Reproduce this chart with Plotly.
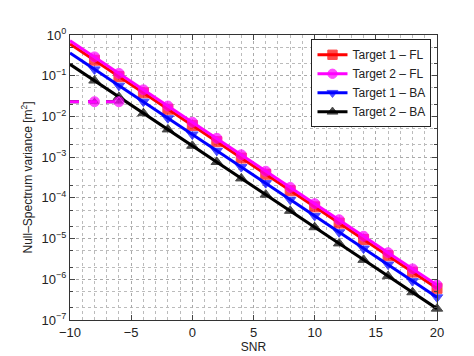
import plotly.graph_objects as go

snr = [-10, -8, -6, -4, -2, 0, 2, 4, 6, 8, 10, 12, 14, 16, 18, 20]
t1_fl = [0.6, 0.24, 0.095, 0.038, 0.015, 6.0e-3, 2.4e-3, 9.5e-4, 3.8e-4, 1.5e-4,
         6.0e-5, 2.4e-5, 9.5e-6, 3.8e-6, 1.5e-6, 6.0e-7]
t2_fl = [0.72, 0.29, 0.114, 0.045, 0.018, 7.2e-3, 2.9e-3, 1.14e-3, 4.5e-4, 1.8e-4,
         7.2e-5, 2.9e-5, 1.14e-5, 4.5e-6, 1.8e-6, 7.2e-7]
t1_ba = [0.36, 0.143, 0.057, 0.023, 9.0e-3, 3.6e-3, 1.43e-3, 5.7e-4, 2.3e-4, 9.0e-5,
         3.6e-5, 1.43e-5, 5.7e-6, 2.3e-6, 9.0e-7, 3.6e-7]
t2_ba = [0.19, 0.076, 0.030, 0.012, 4.8e-3, 1.9e-3, 7.6e-4, 3.0e-4, 1.2e-4, 4.8e-5,
         1.9e-5, 7.6e-6, 3.0e-6, 1.2e-6, 4.8e-7, 1.9e-7]

low_snr = [-10, -8, -6]
low_t2_ba = [0.023, 0.023, 0.023]
low_t2_fl = [0.023, 0.023, 0.023]

ytick_vals = [1, 1e-1, 1e-2, 1e-3, 1e-4, 1e-5, 1e-6, 1e-7]
ytick_text = ["10<sup>0</sup>", "10<sup>−1</sup>", "10<sup>−2</sup>", "10<sup>−3</sup>",
              "10<sup>−4</sup>", "10<sup>−5</sup>", "10<sup>−6</sup>", "10<sup>−7</sup>"]
xtick_vals = [-10, -5, 0, 5, 10, 15, 20]

msizes = [0] + [10] * (len(snr) - 1)

fig = go.Figure()

series = [
    ("Target 1 – FL", t1_fl, "#ff0000", "square"),
    ("Target 2 – FL", t2_fl, "#ff00ff", "circle"),
    ("Target 1 – BA", t1_ba, "#0000ff", "triangle-down"),
    ("Target 2 – BA", t2_ba, "#000000", "triangle-up"),
]
for name, ys, col, sym in series:
    fig.add_trace(go.Scatter(
        x=snr, y=ys, name=name, mode="lines+markers",
        line=dict(color=col, width=3),
        marker=dict(symbol=sym, size=msizes, color=col,
                    line=dict(color=col, width=1)),
        cliponaxis=False,
    ))

low_ms = [0, 10, 10]
fig.add_trace(go.Scatter(
    x=low_snr, y=low_t2_ba, mode="lines+markers", showlegend=False,
    line=dict(color="#000000", width=3, dash="dash"),
    marker=dict(symbol="triangle-up", size=low_ms, color="#000000"),
))
fig.add_trace(go.Scatter(
    x=low_snr, y=low_t2_fl, mode="lines+markers", showlegend=False,
    line=dict(color="#ff00ff", width=3, dash="dash"),
    marker=dict(symbol="circle", size=low_ms, color="#ff00ff",
                line=dict(color="#ff00ff", width=1)),
))

fig.update_layout(
    width=474, height=356,
    margin=dict(l=62, r=45, t=27, b=40),
    paper_bgcolor="white", plot_bgcolor="white",
    font=dict(family="Liberation Sans, Arial, sans-serif", size=13, color="#222222"),
    legend=dict(x=0.985, y=0.985, xanchor="right", yanchor="top",
                bgcolor="white", bordercolor="#222222", borderwidth=1,
                font=dict(size=12), tracegroupgap=0, itemwidth=30),
    showlegend=True,
)
fig.update_xaxes(
    range=[-10, 20], tickvals=xtick_vals, ticks="inside", ticklen=5,
    showline=True, linecolor="#333333", linewidth=1, mirror="ticks",
    showgrid=True, gridcolor="#aaaaaa", griddash="dot", gridwidth=1,
    minor=dict(dtick=1, showgrid=True, gridcolor="#bbbbbb", griddash="dot", ticks=""),
    zeroline=False, tickfont=dict(size=13),
    title=dict(text="SNR", standoff=4, font=dict(size=12)),
)
fig.update_yaxes(
    type="log", range=[-7, 0], tickvals=ytick_vals, ticktext=ytick_text,
    ticks="inside", ticklen=5,
    showline=True, linecolor="#333333", linewidth=1, mirror="ticks",
    showgrid=True, gridcolor="#aaaaaa", griddash="dot", gridwidth=1,
    minor=dict(showgrid=True, gridcolor="#bbbbbb", griddash="dot", ticks="inside", ticklen=3),
    zeroline=False, tickfont=dict(size=13),
    title=dict(text="Null–Spectrum variance [m<sup>2</sup>]", standoff=6, font=dict(size=12)),
)

fig.write_html("out.html")
